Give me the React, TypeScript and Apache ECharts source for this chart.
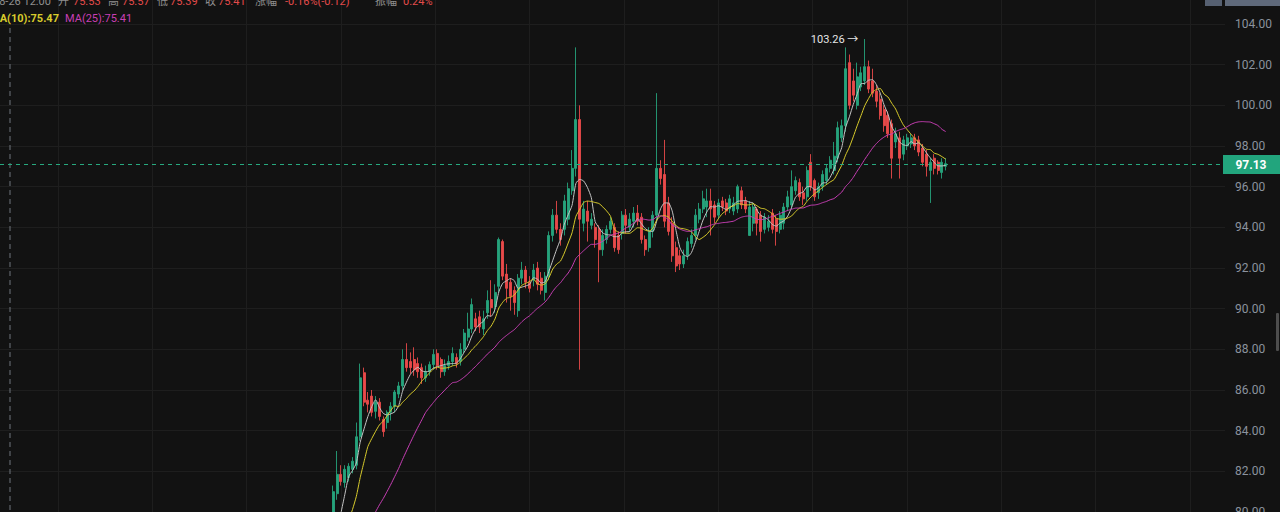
import React, { useEffect, useRef } from "react";
import * as echarts from "echarts";

// ---------- data ----------
const TOTAL_BARS = 318;
const LEADING_EMPTY = 60;
const categories = Array.from({ length: TOTAL_BARS }, (_, i) => `K${i}`);

// [open, close, low, high]
const candlesHidden = [
  [75.5, 75.5, 75.4, 75.6], [75.5, 75.6, 75.4, 75.7], [75.6, 75.5, 75.4, 75.7], [75.5, 75.6, 75.4, 75.7],
  [75.6, 75.7, 75.5, 75.8], [75.7, 75.6, 75.5, 75.8], [75.6, 75.7, 75.5, 75.8], [75.7, 75.8, 75.6, 75.9],
  [75.8, 75.9, 75.7, 76.0], [75.9, 75.8, 75.7, 76.0], [75.8, 75.9, 75.7, 76.0], [75.9, 76.0, 75.8, 76.1],
  [76.0, 76.0, 75.9, 76.1], [76.0, 76.1, 75.9, 76.2], [76.1, 76.1, 76.0, 76.2], [76.1, 76.2, 76.0, 76.3],
  [76.2, 76.2, 76.1, 76.3], [76.2, 76.3, 76.1, 76.4], [76.3, 76.4, 76.2, 76.5], [76.4, 76.6, 76.3, 76.7],
  [76.6, 76.8, 76.5, 76.9], [76.8, 77.0, 76.7, 77.1], [77.0, 77.2, 76.9, 77.3], [77.2, 77.4, 77.1, 77.5],
  [77.4, 77.6, 77.3, 77.7], [77.6, 77.8, 77.5, 77.9],
];

const candlesRise = [
  [77.8, 81.0, 77.5, 81.3], [80.9, 81.85, 80.6, 83.0], [81.85, 81.5, 81.3, 82.3], [81.45, 82.1, 81.2, 82.3],
  [81.7, 82.25, 81.5, 82.4], [82.1, 82.5, 81.9, 82.7], [82.3, 83.7, 82.1, 84.4], [83.7, 86.6, 83.5, 87.3],
  [86.85, 85.4, 85.2, 87.1], [85.5, 85.3, 84.9, 85.9], [85.7, 84.9, 84.7, 86.0], [84.95, 85.4, 84.6, 85.7],
  [85.4, 84.7, 84.5, 85.6], [84.55, 83.95, 83.7, 84.7], [84.4, 84.9, 84.1, 85.0], [84.9, 85.2, 84.5, 85.4],
  [85.2, 85.9, 84.9, 86.0], [85.8, 86.2, 85.6, 86.4], [86.2, 87.5, 86.0, 88.0], [87.5, 87.1, 86.9, 88.3],
  [87.4, 87.1, 86.8, 87.85], [87.5, 87.0, 86.7, 88.1], [87.3, 86.9, 86.6, 87.6], [87.1, 86.6, 86.3, 87.3],
  [86.6, 86.9, 86.4, 87.2], [86.9, 87.25, 86.7, 87.4], [87.25, 87.75, 87.0, 88.0], [87.8, 87.2, 87.0, 88.0],
  [87.5, 86.9, 86.6, 87.6], [86.9, 87.2, 86.7, 87.5], [87.2, 87.4, 87.0, 87.7], [87.4, 87.8, 87.2, 88.1],
  [87.6, 87.3, 87.1, 87.8], [87.4, 88.0, 87.2, 88.3], [88.0, 88.8, 87.8, 89.0], [88.6, 89.0, 88.4, 89.8],
  [89.0, 90.2, 88.8, 90.5], [89.5, 89.1, 88.9, 89.8], [89.6, 89.1, 88.8, 89.9], [89.0, 89.5, 88.7, 89.9],
];

const candlesRange = [
  [89.8, 90.4, 89.5, 90.9], [90.45, 90.05, 89.6, 91.4], [90.1, 90.8, 89.8, 91.2], [91.1, 93.4, 90.8, 93.5],
  [93.3, 91.6, 91.4, 93.4], [91.7, 91.0, 90.3, 92.2], [91.3, 90.6, 89.9, 91.5], [90.9, 90.3, 89.7, 91.1],
  [89.9, 91.5, 89.6, 91.7], [91.5, 91.9, 91.2, 92.3], [91.9, 91.3, 91.0, 92.1], [91.3, 91.0, 90.8, 91.6],
  [91.4, 91.9, 91.1, 92.2], [92.0, 91.2, 90.9, 92.3], [91.5, 90.9, 90.7, 91.8], [90.8, 91.6, 90.4, 91.8],
  [91.6, 93.6, 91.4, 93.8], [93.6, 94.6, 93.3, 94.9], [94.6, 93.9, 93.7, 95.3], [93.9, 93.4, 93.1, 94.2],
  [93.9, 95.3, 93.6, 95.6], [94.4, 95.9, 94.1, 96.2], [95.8, 96.9, 95.6, 97.8], [96.9, 99.3, 96.5, 102.85],
  [99.3, 94.4, 87.0, 100.0], [94.2, 94.9, 93.8, 95.3], [94.8, 94.3, 93.3, 95.3], [94.1, 94.4, 93.9, 94.7],
  [94.0, 93.4, 93.0, 94.2], [93.9, 92.9, 91.3, 94.1], [92.9, 93.6, 92.6, 93.9], [93.4, 93.9, 93.2, 94.1],
  [93.9, 94.3, 93.7, 94.5], [94.0, 93.0, 92.8, 94.2], [93.6, 92.9, 92.7, 93.8], [93.7, 94.6, 93.4, 94.8],
  [94.6, 94.1, 93.7, 94.9], [94.0, 94.4, 93.8, 94.7], [94.3, 94.7, 94.0, 95.0], [94.7, 94.3, 94.1, 95.1],
];

const candlesMid = [
  [94.5, 93.4, 93.2, 94.7], [93.4, 92.9, 92.6, 93.6], [93.0, 93.8, 92.8, 94.0], [93.8, 94.6, 93.5, 94.8],
  [94.6, 96.9, 94.3, 100.6], [96.9, 96.4, 96.1, 97.3], [96.6, 94.3, 94.0, 98.3], [95.2, 93.8, 93.6, 95.5],
  [94.2, 92.6, 92.3, 94.5], [93.0, 92.1, 91.8, 93.3], [92.6, 92.2, 91.9, 92.9], [92.2, 92.6, 92.0, 92.9],
  [92.6, 93.3, 92.4, 93.5], [93.2, 93.6, 93.0, 93.9], [93.6, 94.6, 93.4, 94.9], [94.4, 94.9, 94.2, 95.2],
  [94.9, 95.4, 94.7, 95.8], [95.0, 95.3, 94.5, 95.9], [95.3, 94.9, 93.6, 95.9], [95.1, 94.5, 94.2, 95.3],
  [94.6, 95.2, 94.4, 95.4], [95.3, 95.0, 94.8, 95.5], [95.2, 94.8, 94.6, 95.4], [94.9, 95.4, 94.7, 95.6],
  [94.8, 95.2, 94.6, 95.5], [94.9, 96.0, 94.7, 96.1], [95.8, 95.1, 94.9, 96.0], [95.3, 94.9, 94.7, 95.5],
  [93.6, 95.0, 93.6, 95.3], [94.2, 95.0, 93.8, 95.2], [94.9, 94.2, 93.6, 95.0], [94.6, 93.8, 93.3, 94.8],
  [93.9, 94.5, 93.7, 94.7], [94.0, 94.3, 93.8, 94.6], [94.7, 93.9, 93.7, 94.9], [94.4, 93.8, 93.1, 94.6],
  [93.9, 94.6, 93.7, 94.8], [94.2, 95.0, 93.9, 95.2], [95.0, 95.5, 94.8, 95.8], [95.1, 96.0, 94.9, 96.8],
];

const candlesPeak = [
  [95.8, 96.3, 95.6, 96.5], [96.2, 95.5, 95.3, 96.4], [95.7, 95.4, 95.1, 96.0], [95.5, 96.8, 95.3, 97.0],
  [97.2, 96.0, 95.8, 97.6], [96.3, 95.5, 95.3, 96.4], [95.7, 96.0, 95.4, 96.2], [96.0, 96.6, 95.8, 96.8],
  [96.3, 96.9, 96.1, 97.1], [96.9, 97.3, 96.7, 97.5], [96.8, 97.5, 96.6, 98.2], [97.4, 98.9, 97.2, 99.2],
  [98.4, 99.0, 98.2, 99.3], [99.0, 101.8, 98.7, 102.85], [102.1, 100.0, 99.8, 102.5], [101.2, 100.5, 100.2, 101.8],
  [100.0, 101.4, 99.8, 102.1], [100.9, 101.6, 100.7, 101.9], [101.2, 101.9, 101.0, 103.26], [101.9, 100.8, 100.6, 102.2],
  [101.2, 100.6, 100.4, 101.8], [100.7, 100.2, 99.9, 101.0], [100.3, 99.5, 99.3, 100.6], [99.8, 99.0, 98.7, 100.0],
  [99.5, 98.6, 98.4, 99.7], [99.1, 97.4, 96.4, 99.3], [98.2, 98.6, 97.9, 98.9], [98.4, 97.4, 96.4, 98.7],
  [97.6, 98.3, 97.3, 98.5], [98.0, 98.4, 97.8, 98.6], [98.1, 98.4, 97.9, 98.6], [98.4, 98.0, 97.8, 98.6],
  [98.3, 97.7, 97.5, 98.5], [97.9, 97.2, 97.0, 98.1], [97.6, 97.0, 96.5, 97.8], [96.8, 97.2, 95.2, 97.4],
  [97.4, 96.9, 96.6, 97.6], [97.2, 96.8, 96.6, 97.3], [96.7, 97.2, 96.4, 97.4], [97.0, 97.13, 96.8, 97.4],
];

const maPeriods = [5, 10, 25];
const maColors = ["#c4c4c4", "#d8cb2c", "#c83fb5"];
const Y_MIN = 80;
const Y_MAX = 104;
const Y_STEP = 2;
const LAST_PRICE = 97.13;

const headerItems = [
  { x: -7, text: "08-26 12:00", color: "#8f8f8f" },
  { x: 58, text: "开", color: "#8f8f8f" },
  { x: 73, text: "75.53", color: "#e24b4b" },
  { x: 108, text: "高", color: "#8f8f8f" },
  { x: 122, text: "75.57", color: "#e24b4b" },
  { x: 157, text: "低", color: "#8f8f8f" },
  { x: 170, text: "75.39", color: "#e24b4b" },
  { x: 205, text: "收", color: "#8f8f8f" },
  { x: 218, text: "75.41", color: "#e24b4b" },
  { x: 255, text: "涨幅", color: "#8f8f8f" },
  { x: 285, text: "-0.16%(-0.12)", color: "#e24b4b" },
  { x: 375, text: "振幅", color: "#8f8f8f" },
  { x: 403, text: "0.24%", color: "#e24b4b" },
];
const maLegend = [
  { x: -10, text: "MA(10):75.47", color: "#d8cb2c", weight: "bold" },
  { x: 65, text: "MA(25):75.41", color: "#c83fb5", weight: "normal" },
];

// ---------- build ----------
const visible = [...candlesRise, ...candlesRange, ...candlesMid, ...candlesPeak];
const filled = [...candlesHidden, ...visible];
const candleData: any[] = [
  ...Array(LEADING_EMPTY).fill("-"),
  ...filled,
  ...Array(TOTAL_BARS - LEADING_EMPTY - filled.length).fill("-"),
];

function calcMA(n: number, data: any[]) {
  return data.map((d, i) => {
    if (d === "-") return "-";
    let sum = 0;
    for (let j = 0; j < n; j++) {
      const e = data[i - j];
      if (!e || e === "-") return "-";
      sum += e[1];
    }
    return +(sum / n).toFixed(3);
  });
}

let peakIdx = LEADING_EMPTY;
candleData.forEach((d, i) => {
  if (d !== "-" && d[3] > candleData[peakIdx][3]) peakIdx = i;
});

const UP = "#26a37c";
const DOWN = "#e84a4a";
const PRICE_GREEN = "#27a97f";
const FONT = "Roboto, 'Noto Sans CJK SC', sans-serif";
const PLOT_RIGHT_GAP = 55;

export default function App() {
  const ref = useRef<HTMLDivElement>(null);
  useEffect(() => {
    document.body.style.margin = "0";
    const chart = echarts.init(ref.current!, undefined, { renderer: "svg" });
    const baseGraphics: any[] = [
      {
        type: "line",
        shape: { x1: 10, y1: 28, x2: 10, y2: 512 },
        style: { stroke: "#6f757c", lineWidth: 1, lineDash: [5, 4] },
        z: 5,
      },
      ...headerItems.map((h) => ({
        type: "text",
        style: {
          x: h.x, y: 1, text: h.text, fill: h.color, font: `11px ${FONT}`,
          verticalAlign: "middle",
        },
        z: 10,
      })),
      ...maLegend.map((h) => ({
        type: "text",
        style: {
          x: h.x, y: 18, text: h.text, fill: h.color, font: `${h.weight} 11px ${FONT}`,
          verticalAlign: "middle",
        },
        z: 10,
      })),
      { type: "rect", shape: { x: 1205, y: -14, width: 17, height: 20 }, style: { fill: "#566071" }, z: 10 },
      { type: "rect", shape: { x: 1225, y: -14, width: 55, height: 20 }, style: { fill: "#5f697a" }, z: 10 },
      {
        type: "text",
        style: { x: 1252, y: -5, text: "105.53", fill: "#e8e8e8", font: `11px ${FONT}`, align: "center", verticalAlign: "middle" },
        z: 11,
      },
      { type: "rect", shape: { x: 1276, y: 313, width: 3, height: 38, r: 1 }, style: { fill: "#4d4d4d" }, z: 10 },
    ];

    chart.setOption({
      animation: false,
      backgroundColor: "#121212",
      grid: [
        { left: 0, right: PLOT_RIGHT_GAP, top: 24, bottom: 0, containLabel: false, outerBoundsMode: "none" },
        { left: 58, right: 90, top: 0, bottom: 0, containLabel: false, outerBoundsMode: "none" },
      ],
      xAxis: [
        {
          type: "category",
          gridIndex: 0,
          data: categories,
          boundaryGap: true,
          axisLine: { show: false },
          axisTick: { show: false },
          axisLabel: { show: false },
          splitLine: { show: false },
        },
        {
          type: "value",
          gridIndex: 1,
          min: 0,
          max: 12,
          interval: 1,
          axisLine: { show: false },
          axisTick: { show: false },
          axisLabel: { show: false },
          splitLine: { show: true, lineStyle: { color: "#1e1e1e", width: 1 } },
        },
      ],
      yAxis: [
        {
          type: "value",
          gridIndex: 0,
          position: "right",
          min: Y_MIN,
          max: Y_MAX,
          interval: Y_STEP,
          axisLine: { show: false },
          axisTick: { show: false },
          axisLabel: {
            color: "#8b929e",
            fontSize: 12,
            fontFamily: FONT,
            margin: 10,
            formatter: (v: number) => v.toFixed(2),
          },
          splitLine: { show: true, lineStyle: { color: "#1e1e1e", width: 1 } },
        },
        { type: "value", gridIndex: 1, min: 0, max: 1, show: false },
      ],
      graphic: baseGraphics,
      series: [
        {
          type: "candlestick",
          xAxisIndex: 0,
          yAxisIndex: 0,
          data: candleData,
          barWidth: 2.5,
          clip: true,
          itemStyle: {
            color: UP,
            color0: DOWN,
            borderColor: UP,
            borderColor0: DOWN,
            borderWidth: 0.9,
          },
          markPoint: {
            silent: true,
            symbol: "circle",
            symbolSize: 1,
            itemStyle: { color: "rgba(0,0,0,0)" },
            label: {
              show: true,
              position: "left",
              distance: 6,
              formatter: (p: any) => `${(+p.value).toFixed(2)} →`,
              color: "#e6e6e6",
              fontSize: 11,
              fontFamily: FONT,
            },
            data: [
              {
                coord: [categories[peakIdx], candleData[peakIdx][3]],
                value: candleData[peakIdx][3],
              },
            ],
          },
          z: 3,
        },
        ...maPeriods.map((n, i) => ({
          type: "line",
          name: `MA(${n})`,
          xAxisIndex: 0,
          yAxisIndex: 0,
          data: calcMA(n, candleData),
          showSymbol: false,
          symbol: "none",
          smooth: 0.2,
          clip: true,
          lineStyle: { color: maColors[i], width: 1 },
          z: 4,
        })),
      ],
    });

    // last-price line, positioned through the y axis scale and snapped to a pixel row
    const rawY = chart.convertToPixel({ yAxisIndex: 0 }, LAST_PRICE) as number;
    const py = Math.round(rawY) + 0.5;
    const plotRight = 1280 - PLOT_RIGHT_GAP;
    const priceGraphics = [
      {
        type: "line",
        shape: { x1: 0, y1: py, x2: plotRight - 2, y2: py },
        style: { stroke: PRICE_GREEN, lineWidth: 1, lineDash: [4, 4] },
        z: 6,
        silent: true,
      },
      {
        type: "rect",
        shape: { x: plotRight - 2, y: Math.round(rawY) - 9, width: 1280 - plotRight + 2, height: 19 },
        style: { fill: "#22a57d" },
        z: 7,
        silent: true,
      },
      {
        type: "text",
        style: {
          x: plotRight + 26, y: Math.round(rawY) + 0.5, text: LAST_PRICE.toFixed(2),
          fill: "#ffffff", font: `bold 12px ${FONT}`, align: "center", verticalAlign: "middle",
        },
        z: 8,
        silent: true,
      },
    ];
    chart.setOption({ graphic: [...baseGraphics, ...priceGraphics] });
    return () => chart.dispose();
  }, []);
  return (
    <div
      ref={ref}
      style={{ position: "fixed", left: 0, top: 0, width: 1280, height: 512, background: "#121212" }}
    />
  );
}
